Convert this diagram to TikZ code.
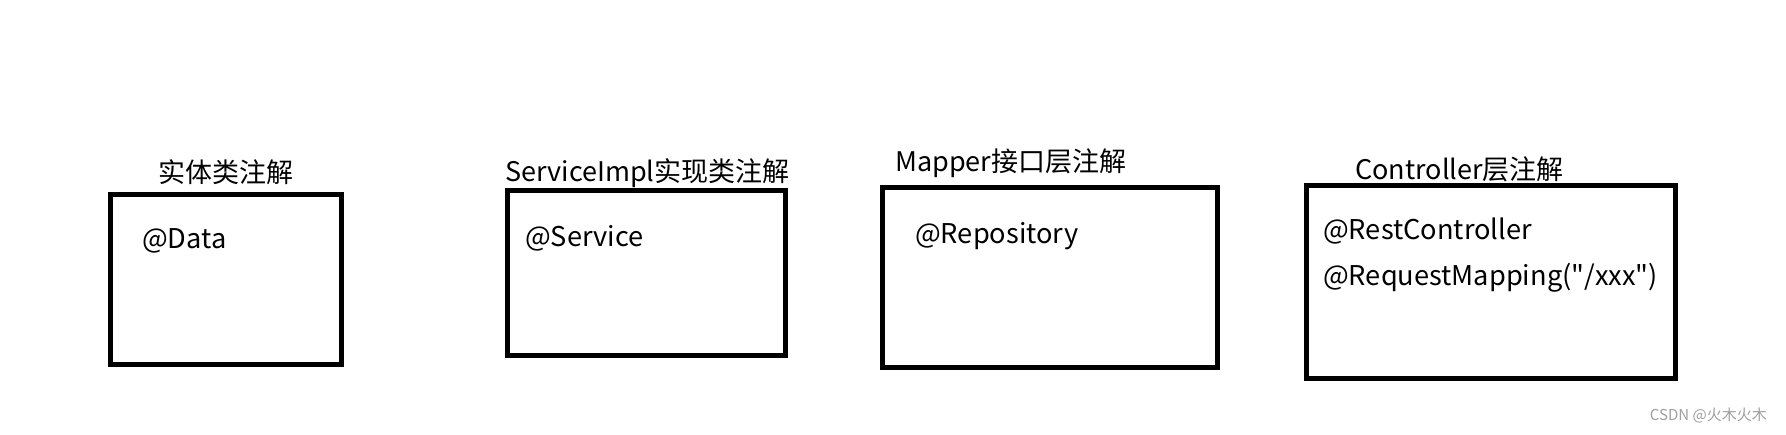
\documentclass[tikz,border=0pt]{standalone}
\usepackage{fontspec}
\setmainfont{Noto Sans CJK SC}[Ligatures=TeXOff]
\usepackage{tikz}
\usetikzlibrary{positioning, calc}
\tikzset{
  layerbox/.style={
    draw, line width=5pt, fill=white, inner sep=0pt
  },
  layertitle/.style={
    anchor=base west, inner sep=0pt, font=\fontsize{27}{31}\selectfont
  },
  annot/.style={
    anchor=base west, inner sep=0pt, font=\fontsize{27.2}{31}\selectfont
  },
}

\begin{document}
\begin{tikzpicture}[
  x=1pt, y=-1pt,
  wmark/.style={anchor=base east, inner sep=0pt, text=gray!75, font=\fontsize{15}{18}\selectfont},
]
  \useasboundingbox[fill=white] (0,0) rectangle (1786,434);

  % === Boxes ===
  \node[layerbox, minimum width=231pt, minimum height=170pt] (entity) at (225.5, 279.5) {};
  \node[layerbox, minimum width=278pt, minimum height=165pt] (service) at (646.5, 273) {};
  \node[layerbox, minimum width=335pt, minimum height=180pt] (mapper) at (1050, 277.5) {};
  \node[layerbox, minimum width=369pt, minimum height=193pt] (controller) at (1491, 282) {};

  % === Titles ===
  \node[layertitle] (entitytitle) at (158, 182) {实体类注解};
  \node[layertitle] (servicetitle) at (505, 181) {ServiceImpl实现类注解};
  \node[layertitle] (mappertitle) at (895, 171) {Mapper接口层注解};
  \node[layertitle] (controllertitle) at (1355, 179) {Controller层注解};

  % === Annotations ===
  \node[annot] (data) at (142, 248) {@Data};
  \node[annot] (serv) at (525, 246) {@Service};
  \node[annot] (repo) at (915, 243) {@Repository};
  \node[annot] (rest) at (1323, 239) {@RestController};
  \node[annot] (reqmap) at (1323, 285.5) {@RequestMapping("/xxx")};

  % === Watermark ===
  \node[wmark] (csdn) at (1767, 420) {CSDN @火木火木};

\end{tikzpicture}
\end{document}
